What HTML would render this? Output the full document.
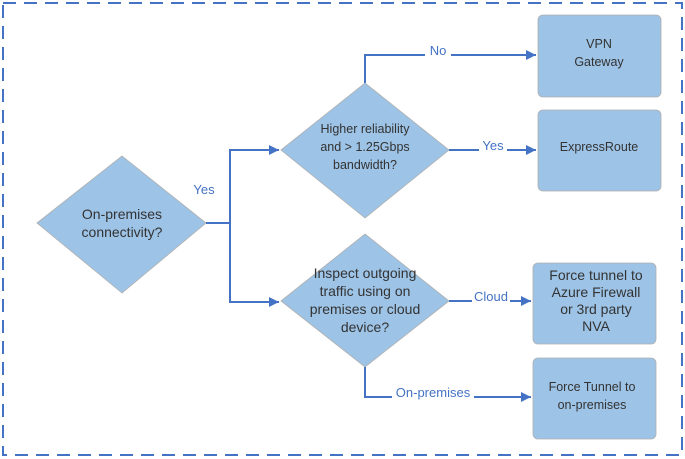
<!DOCTYPE html>
<html><head><meta charset="utf-8"><style>
html,body{margin:0;padding:0;background:#fff;}
svg{display:block;}
text{font-family:"Liberation Sans",sans-serif;}
</style></head><body>
<svg width="685" height="459" viewBox="0 0 685 459" xmlns="http://www.w3.org/2000/svg">
<defs><marker id="a" viewBox="0 0 10 10" refX="10" refY="5" markerWidth="5" markerHeight="5" orient="auto"><path d="M0,0L10,5L0,10z" fill="#4472c4"/></marker></defs>
<rect x="3" y="3" width="679" height="452" fill="none" stroke="#4472c4" stroke-width="2" stroke-dasharray="13,8"/>
<g fill="#9dc3e6" stroke="#b0b0b0" stroke-width="0.8">
<polygon points="37,223 122,156 206,223 122,293"/>
<polygon points="281,150 365,83 449,150 365,218"/>
<polygon points="281,301 365,234 449,301 365,367"/>
<rect x="538" y="15" width="123" height="82" rx="5"/>
<rect x="538" y="110" width="123" height="81" rx="5"/>
<rect x="533" y="263" width="123" height="81" rx="5"/>
<rect x="533" y="358" width="123" height="81" rx="5"/>
</g>
<g fill="none" stroke="#4472c4" stroke-width="2">
<path d="M206,223H230V150H279" marker-end="url(#a)"/>
<path d="M230,223V302H279" marker-end="url(#a)"/>
<path d="M365,83V55H536" marker-end="url(#a)"/>
<path d="M449,150H536" marker-end="url(#a)"/>
<path d="M449,301H531" marker-end="url(#a)"/>
<path d="M365,367V397H531" marker-end="url(#a)"/>
</g>
<g fill="#4472c4" font-size="13" text-anchor="middle">
<rect x="425" y="44" width="26" height="14" fill="#fff"/><text x="438" y="55">No</text>
<rect x="479" y="139" width="28" height="14" fill="#fff"/><text x="493" y="150">Yes</text>
<text x="204" y="194">Yes</text>
<rect x="472" y="290" width="38" height="14" fill="#fff"/><text x="491" y="301">Cloud</text>
<rect x="392" y="386" width="82" height="14" fill="#fff"/><text x="433" y="397">On-premises</text>
</g>
<g fill="#333" text-anchor="middle">
<text font-size="14" x="122" y="219">On-premises</text>
<text font-size="14" x="122" y="237">connectivity?</text>
<text font-size="12.5" x="365" y="133">Higher reliability</text>
<text font-size="12.5" x="365" y="151">and &gt; 1.25Gbps</text>
<text font-size="12.5" x="365" y="169">bandwidth?</text>
<text font-size="14" x="365" y="278">Inspect outgoing</text>
<text font-size="14" x="365" y="296">traffic using on</text>
<text font-size="14" x="365" y="314">premises or cloud</text>
<text font-size="14" x="365" y="332">device?</text>
<text font-size="12.5" x="599" y="48">VPN</text>
<text font-size="12.5" x="599" y="66">Gateway</text>
<text font-size="12.5" x="599" y="151">ExpressRoute</text>
<text font-size="14" x="596" y="280">Force tunnel to</text>
<text font-size="14" x="596" y="297">Azure Firewall</text>
<text font-size="14" x="596" y="314">or 3rd party</text>
<text font-size="14" x="596" y="331">NVA</text>
<text font-size="12.5" x="592" y="391">Force Tunnel to</text>
<text font-size="12.5" x="592" y="409">on-premises</text>
</g>
</svg>
</body></html>
